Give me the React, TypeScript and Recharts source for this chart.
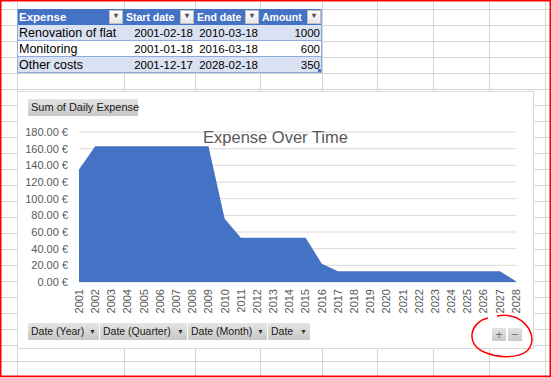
import React from 'react';
import { AreaChart, Area, XAxis, YAxis, CartesianGrid } from 'recharts';

const years = [
  '2001', '2002', '2003', '2004', '2005', '2006', '2007', '2008', '2009', '2010',
  '2011', '2012', '2013', '2014', '2015', '2016', '2017', '2018', '2019', '2020',
  '2021', '2022', '2023', '2024', '2025', '2026', '2027', '2028'
];
const dailyExpense = [
  135, 163, 163, 163, 163, 163, 163, 163, 163, 76,
  53, 53, 53, 53, 53, 22, 13, 13, 13, 13,
  13, 13, 13, 13, 13, 13, 13, 1
];
const yTicks = [0, 20, 40, 60, 80, 100, 120, 140, 160, 180];

const headers = ['Expense', 'Start date', 'End date', 'Amount'];
const expenses = ['Renovation of flat', 'Monitoring', 'Other costs'];
const startDates = ['2001-02-18', '2001-01-18', '2001-12-17'];
const endDates = ['2010-03-18', '2016-03-18', '2028-02-18'];
const amounts = [1000, 600, 350];
const fieldButtons = ['Date (Year)', 'Date (Quarter)', 'Date (Month)', 'Date'];

const data = years.map((y, i) => ({ year: y, value: dailyExpense[i] }));

const FONT = '"Liberation Sans", Arial, sans-serif';
const colX = [17, 124, 195, 260, 322];
const gridCols = [17, 124, 195, 260, 322, 377, 433, 489, 545];

const YearTick = (props: any) => {
  const { x, y, payload } = props;
  return (
    <g transform={`translate(${x},${y + 7})`}>
      <text
        transform="rotate(-90)"
        textAnchor="end"
        dy="0.35em"
        fontSize={11}
        fontFamily={FONT}
        fill="#595959"
      >
        {payload.value}
      </text>
    </g>
  );
};

const btnStyle: React.CSSProperties = {
  position: 'absolute',
  height: 17,
  background: 'linear-gradient(#e4e4e4, #c8c8c8)',
  fontFamily: FONT,
  fontSize: 10.5,
  color: '#1a1a1a',
  lineHeight: '17px',
  paddingLeft: 3,
  boxSizing: 'border-box',
  whiteSpace: 'nowrap'
};

export default function App() {
  const rows = expenses.map((e, i) => [e, startDates[i], endDates[i], String(amounts[i])]);
  const fieldX = [27, 99, 187, 267];
  const fieldW = [71, 87, 79, 42];

  return (
    <div style={{ position: 'relative', width: 551, height: 377, background: '#fff', overflow: 'hidden' }}>
      <style>{'body{margin:0}'}</style>
      {/* sheet grid */}
      {Array.from({ length: 23 }, (_, i) => (
        <div key={'h' + i} style={{ position: 'absolute', left: 0, top: 9 + i * 16, width: 551, height: 1, background: '#d4d4d4' }} />
      ))}
      {gridCols.map(x => (
        <div key={'v' + x} style={{ position: 'absolute', left: x, top: 0, width: 1, height: 377, background: '#d4d4d4' }} />
      ))}

      {/* table */}
      {headers.map((h, c) => (
        <div key={h} style={{
          position: 'absolute', left: colX[c], top: 9, width: colX[c + 1] - colX[c], height: 16,
          background: '#4472c4', color: '#fff', fontWeight: 'bold', fontFamily: FONT, fontSize: c === 0 ? 11.5 : 10.5,
          lineHeight: '16px', paddingLeft: 2, boxSizing: 'border-box'
        }}>
          {h}
          <div style={{
            position: 'absolute', right: 1, top: 1, width: 14, height: 14, background: 'linear-gradient(#fff,#e6e6e6)',
            border: '1px solid #c0c0c0', boxSizing: 'border-box', color: '#555', fontSize: 8, lineHeight: '10px', textAlign: 'center'
          }}>▾</div>
        </div>
      ))}
      {rows.map((r, ri) => r.map((cell, c) => (
        <div key={ri + '-' + c} style={{
          position: 'absolute', left: colX[c], top: 25 + ri * 16, width: colX[c + 1] - colX[c], height: 16,
          background: ri % 2 === 0 ? '#d9e1f2' : '#fff', borderBottom: '1px solid #8ea9db',
          fontFamily: FONT, fontSize: c === 0 ? 12.5 : 11.5, lineHeight: '16px', color: '#000', boxSizing: 'border-box',
          textAlign: c === 0 ? 'left' : 'right', paddingLeft: 2, paddingRight: 2
        }}>{cell}</div>
      )))}
      <div style={{ position: 'absolute', left: 17, top: 9, width: 1, height: 64, background: '#8ea9db' }} />
      <div style={{ position: 'absolute', left: 321, top: 9, width: 1, height: 64, background: '#8ea9db' }} />
      <div style={{ position: 'absolute', left: 318, top: 69, width: 3, height: 3, background: '#4472c4' }} />

      {/* chart box */}
      <div style={{ position: 'absolute', left: 17, top: 91, width: 517, height: 258, background: '#fff', border: '1px solid #d9d9d9', boxSizing: 'border-box' }}>
        <AreaChart width={517} height={258} data={data} margin={{ top: 41, right: 18, left: 0, bottom: 0 }} style={{ position: 'absolute', left: -1, top: -1 }}>
          <CartesianGrid vertical={false} stroke="#d9d9d9" />
          <XAxis
            dataKey="year"
            interval={0}
            axisLine={false}
            tickLine={false}
            tickSize={0}
            tickMargin={0}
            height={67}
            tick={<YearTick />}
          />
          <YAxis
            domain={[0, 180]}
            ticks={yTicks}
            interval={0}
            width={62}
            axisLine={false}
            tickLine={false}
            tickSize={0}
            tickMargin={11}
            tick={{ fontSize: 11, fontFamily: FONT, fill: '#595959' }}
            tickFormatter={(v: number) => v.toFixed(2) + ' €'}
          />
          <Area type="linear" dataKey="value" stroke="none" fill="#4472c4" fillOpacity={1} isAnimationActive={false} />
        </AreaChart>
        <div style={{ position: 'absolute', left: 0, right: 0, top: 36, textAlign: 'center', fontFamily: FONT, fontSize: 16.5, color: '#595959' }}>
          Expense Over Time
        </div>
        <div style={{ ...btnStyle, left: 10, top: 7, width: 110, fontSize: 11 }}>Sum of Daily Expense</div>
        {fieldButtons.map((f, i) => (
          <div key={f} style={{ ...btnStyle, left: fieldX[i] - 17, top: 231, width: fieldW[i] }}>
            {f}
            <span style={{ position: 'absolute', right: 3, top: 0, fontSize: 7, color: '#333' }}>▼</span>
          </div>
        ))}
        <div style={{ ...btnStyle, left: 474, top: 236, width: 14, height: 13, paddingLeft: 0, textAlign: 'center', lineHeight: '13px', color: '#777', fontSize: 13 }}>+</div>
        <div style={{ ...btnStyle, left: 490, top: 236, width: 14, height: 13, paddingLeft: 0, textAlign: 'center', lineHeight: '13px', color: '#777', fontSize: 13 }}>−</div>
      </div>

      {/* hand-drawn red circle */}
      <svg width={551} height={377} style={{ position: 'absolute', left: 0, top: 0, pointerEvents: 'none' }}>
        <path d="M 488 318 C 470 322, 465 344, 484 352 C 500 359, 526 359, 531 345 C 536 330, 520 312, 497 316" fill="none" stroke="#ff0000" strokeWidth={1.5} />
        <rect x={0.75} y={0.75} width={549.5} height={375.5} fill="none" stroke="#ff0000" strokeWidth={1.5} />
      </svg>
    </div>
  );
}
